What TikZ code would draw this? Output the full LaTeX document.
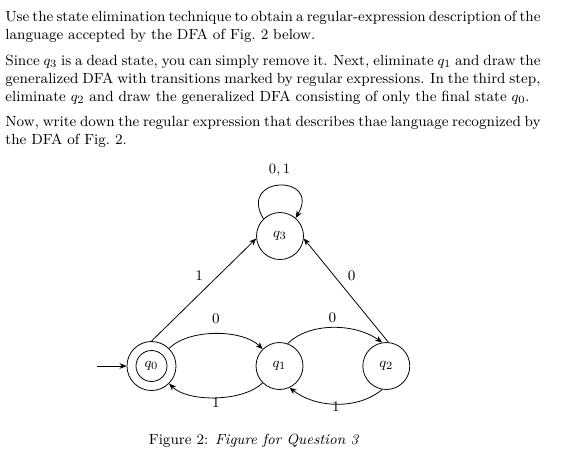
\documentclass[tikz,border=0pt]{standalone}
\usetikzlibrary{arrows.meta}
\begin{document}
\begin{tikzpicture}[x=0.6325pt,y=-0.6325pt,
  every node/.style={font=\fontsize{9.3pt}{11.5pt}\selectfont},
  every path/.style={line width=0.5pt},
  state/.style={circle,draw,minimum size=29.7pt,inner sep=0pt},
  accept/.style={circle,draw,minimum size=31pt,inner sep=0pt},
  acceptin/.style={circle,draw,minimum size=19.6pt,inner sep=0pt},
  tr/.style={-{Stealth[length=4.5pt,width=3.6pt]}},
  lbl/.style={inner sep=0pt}]
\useasboundingbox (0,0) rectangle (564,465);

\node[anchor=north west,text width=338.5pt,inner sep=0pt,align=justify] (txt) at (5,11)
{\setlength\parindent{0pt}\setlength\parskip{4.4pt}\hbadness=10000\hfuzz=20pt%
\spaceskip=0.3333em plus 0.2em minus 0.2em\xspaceskip=0.45em plus 0.3em minus 0.2em%
Use the state elimination technique to obtain a regular-expression description of the\linebreak{} language accepted by the DFA of Fig.~2 below.\par
Since $q_3$ is a dead state, you can simply remove it. Next, eliminate $q_1$ and draw the\linebreak{} generalized DFA with transitions marked by regular expressions. In the third step,\linebreak{} eliminate $q_2$ and draw the generalized DFA consisting of only the final state $q_0$.\par
Now, write down the regular expression that describes thae language recognized by\linebreak{} the DFA of Fig.~2.\par};

\node[accept] (q0) at (151.5,366) {};
\node[acceptin] (q0in) at (q0) {$q_0$};
\node[state] (q1) at (279.5,366) {$q_1$};
\node[state] (q2) at (386.3,366) {$q_2$};
\node[state] (q3) at (280,236) {$q_3$};
\coordinate (start) at (97,366);

\draw[tr] (start) -- (q0.west);
\draw[tr] (q0.north) -- node[pos=0.54,above left,inner sep=3pt] (l1) {1} (q3.186);
\draw[tr] (q2.85) -- node[pos=0.54,above right,inner sep=3pt] (l2) {0} (q3.354);
\draw[tr] (q3.134) .. controls +(-26,-44) and +(26,-44) .. node[midway,above=5.4pt,lbl] (l3) {$0,1$} (q3.49);
\draw[tr] (q0.45) .. controls +(20,-20) and +(-20,-20) .. node[midway,above=6.3pt,lbl] (l4) {0} (q1.135);
\draw[tr] (q1.225) .. controls +(-19,19) and +(19,19) .. node[midway,below=0pt,lbl] (l5) {1} (q0.315);
\draw[tr] (q1.70) .. controls +(21,-21) and +(-28,-20) .. node[midway,above=2.5pt,lbl] (l6) {0} (q2.100);
\draw[tr] (q2.260) .. controls +(-25,21) and +(25,20) .. node[midway,below=-1.5pt,lbl] (l7) {1} (q1.295);

\node[anchor=base] (cap) at (254,444) {Figure 2: \textit{Figure for Question 3}};
\end{tikzpicture}
\end{document}
